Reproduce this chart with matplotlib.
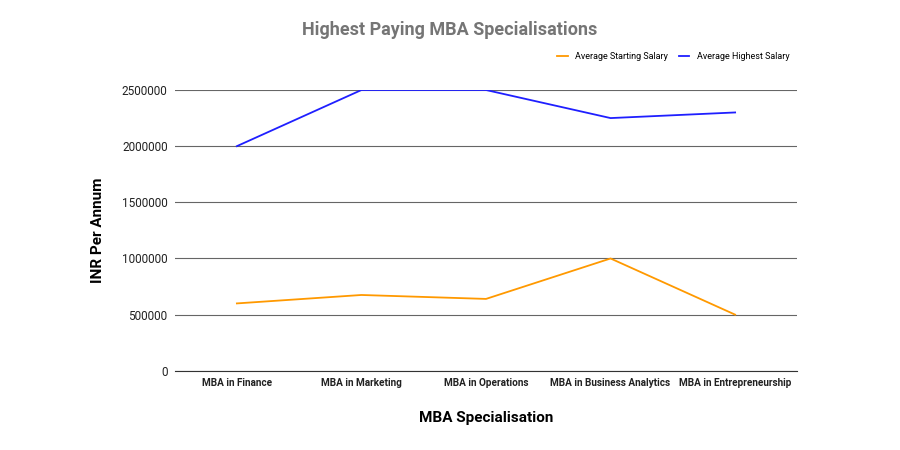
import matplotlib
matplotlib.use("Agg")
import matplotlib.pyplot as plt

categories = ["MBA in Finance", "MBA in Marketing", "MBA in Operations",
              "MBA in Business Analytics", "MBA in Entrepreneurship"]
starting = [600000, 675000, 640000, 1000000, 500000]
highest = [2000000, 2500000, 2500000, 2250000, 2300000]
yticks = [0, 500000, 1000000, 1500000, 2000000, 2500000]

plt.rcParams['font.family'] = ['Roboto', 'DejaVu Sans']
fig = plt.figure(figsize=(9, 4.5), dpi=100)
ax = fig.add_axes([0.194, 0.176, 0.692, 0.624])
x = range(len(categories))
ax.plot(x, starting, color='#ff9900', lw=1.3, label='Average Starting Salary')
ax.plot(x, highest, color='#1f1fff', lw=1.3, label='Average Highest Salary')
ax.set_xlim(-0.5, 4.5)
ax.set_ylim(0, 2500000)
ax.set_yticks(yticks)
ax.set_yticklabels([str(v) for v in yticks], fontsize=8.5, color='#222222')
ax.set_xticks(list(x))
ax.set_xticklabels(categories, fontsize=7.2, fontweight='bold', color='#222222')
ax.tick_params(length=0, pad=5)
ax.grid(axis='y', color='#666666', lw=0.8)
ax.set_axisbelow(True)
for s in ['top', 'right', 'left']:
    ax.spines[s].set_visible(False)
ax.spines['bottom'].set_color('#333333')
ax.set_ylabel('INR Per Annum', fontsize=11, fontweight='bold', labelpad=12)
ax.set_xlabel('MBA Specialisation', fontsize=11, fontweight='bold', labelpad=17)
fig.text(0.5, 0.933, 'Highest Paying MBA Specialisations', ha='center', va='center',
         fontsize=13, fontweight='bold', color='#757575')
ax.legend(loc='lower right', bbox_to_anchor=(1.0, 1.075), ncol=2, frameon=False,
          fontsize=6.5, handlelength=1.2, columnspacing=1.2)
fig.savefig('out.png', dpi=100, facecolor='white')
